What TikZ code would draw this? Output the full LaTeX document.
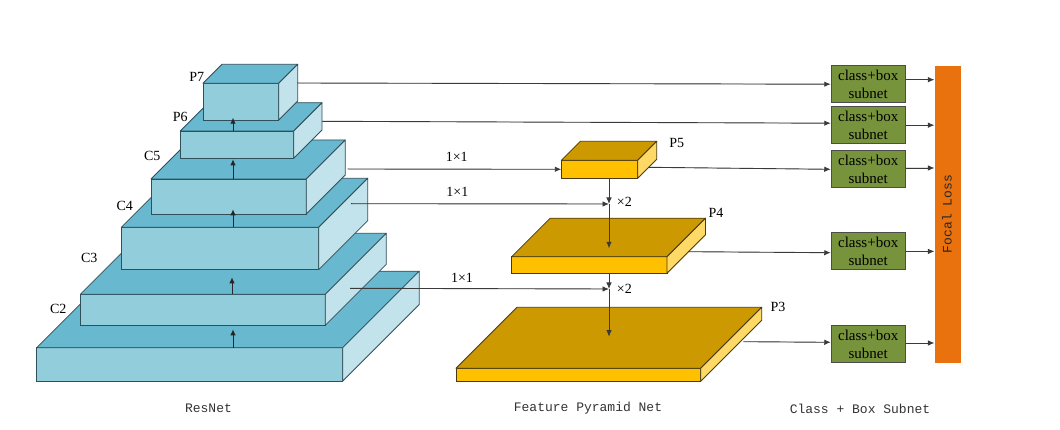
\documentclass[tikz,border=0pt]{standalone}
\usepackage{fontspec}
\setmainfont{Liberation Serif}
\setmonofont{Liberation Mono}
\definecolor{BlueFront}{HTML}{92CDDC}
\definecolor{BlueTop}{HTML}{68B9D0}
\definecolor{BlueSide}{HTML}{C3E3EC}
\definecolor{BlueEdge}{HTML}{2F4F5A}
\definecolor{GoldFront}{HTML}{FFC000}
\definecolor{GoldTop}{HTML}{CC9900}
\definecolor{GoldSide}{HTML}{FFD966}
\definecolor{GoldEdge}{HTML}{4A3A10}
\definecolor{SubnetGreen}{HTML}{77933C}
\definecolor{LossOrange}{HTML}{E9720E}
\definecolor{LineDark}{HTML}{3A3A3A}
\usetikzlibrary{arrows.meta,positioning,calc}
\tikzset{
  slabFront/.style={anchor=north west, inner sep=0pt, outer sep=0pt},
  subnetBox/.style={draw=black!70, line width=0.9pt, fill=SubnetGreen, align=center, minimum width=74pt, minimum height=37pt, inner sep=0pt, font=\fontsize{15}{18.5}\selectfont},
  lossBox/.style={fill=LossOrange, minimum width=26.5pt, minimum height=297pt, inner sep=0pt},
  lossLabel/.style={rotate=90, inner sep=0pt, text=black!85, font=\ttfamily\fontsize{13}{15}\selectfont},
  levelLabel/.style={inner sep=0pt, font=\fontsize{14}{16}\selectfont},
  captionLabel/.style={inner sep=0pt, text=black!80, font=\ttfamily\fontsize{13}{15}\selectfont},
  arrow/.style={-{Latex[length=6.5pt,width=5.5pt]}, line width=0.9pt, draw=LineDark, fill=black},
  upArrow/.style={-{Latex[length=6pt,width=5.5pt]}, line width=1pt, draw=black!85}
}
% name, left, top, width, height, depth, palette
\newcommand{\slab}[7]{%
  \node[slabFront, minimum width=#4pt, minimum height=#5pt, fill=#7Front, draw=#7Edge, line width=0.8pt] (#1) at (#2,#3) {};
  \draw[draw=#7Edge, line width=0.8pt, line join=round, fill=#7Top] (#1.north west) -- ++(#6,-#6) -- ++(#4,0) -- (#1.north east) -- cycle;
  \draw[draw=#7Edge, line width=0.8pt, line join=round, fill=#7Side] (#1.north east) -- ++(#6,-#6) -- ++(0,#5) -- (#1.south east) -- cycle;
}
\begin{document}
\begin{tikzpicture}[x=1pt,y=-1pt]
  \useasboundingbox (0,0) rectangle (1060,430);

  % ResNet levels, widest first
  \slab{C1}{36.7}{347.7}{306}{33.3}{76.5}{Blue}
  \slab{C2}{80.3}{294.3}{245}{31}{61}{Blue}
  \slab{C3}{121.3}{227.3}{197.4}{42.4}{49}{Blue}
  \slab{C4}{151}{179}{155.3}{35}{39}{Blue}
  \slab{C5}{180.3}{131}{113.4}{27.3}{28.3}{Blue}
  \slab{C6}{203}{83.3}{75.7}{36.7}{19}{Blue}

  % feature pyramid levels
  \slab{P5}{561.3}{160.3}{76.4}{18}{19}{Gold}
  \slab{P4}{511.7}{256.7}{155.3}{16.6}{38.5}{Gold}
  \slab{P3}{456}{368.3}{244.7}{13}{61}{Gold}

  \node[subnetBox] (sub1) at (868.2,84.2) {class+box\\subnet};
  \node[subnetBox] (sub2) at (868.2,125.2) {class+box\\subnet};
  \node[subnetBox] (sub3) at (868.2,169.3) {class+box\\subnet};
  \node[subnetBox] (sub4) at (868.2,251.4) {class+box\\subnet};
  \node[subnetBox] (sub5) at (868.2,344.2) {class+box\\subnet};
  \node[lossBox] (loss) at (947.9,214.2) {};
  \node[lossLabel] (lossText) at (947,214) {Focal Loss};

  \node[levelLabel] (labP7) at (196.7,76.7) {P7};
  \node[levelLabel] (labP6) at (180.3,116.7) {P6};
  \node[levelLabel] (labC5) at (152.3,156) {C5};
  \node[levelLabel] (labC4) at (124.7,205.7) {C4};
  \node[levelLabel] (labC3) at (89.3,258) {C3};
  \node[levelLabel] (labC2) at (58.3,309) {C2};
  \node[levelLabel] (labP5) at (676.7,142.7) {P5};
  \node[levelLabel] (labP4) at (716,212.7) {P4};
  \node[levelLabel] (labP3) at (778,306.7) {P3};

  \node[levelLabel] (conv5) at (456.7,156.7) {1×1};
  \node[levelLabel] (conv4) at (457.3,191.7) {1×1};
  \node[levelLabel] (conv3) at (462,277.7) {1×1};
  \node[levelLabel] (up4) at (624.3,201.7) {×2};
  \node[levelLabel] (up3) at (624.3,289) {×2};

  \node[captionLabel] (capRes) at (208.5,408.5) {ResNet};
  \node[captionLabel] (capFpn) at (588,408.5) {Feature Pyramid Net};
  \node[captionLabel] (capSub) at (860,408.5) {Class + Box Subnet};

  % free ends of the connectors
  \coordinate (tipC1) at (233,329.3);
  \coordinate (tipC2) at (232,277.3);
  \coordinate (tipC3) at (233,209.3);
  \coordinate (tipC4) at (233,159.3);
  \coordinate (tipC5) at (233,117.7);
  \coordinate (outC6) at (297.3,83);
  \coordinate (outC5) at (322,121.3);
  \coordinate (outC4) at (347.7,169);
  \coordinate (outC3) at (351,203.7);
  \coordinate (outC2) at (350,288.3);
  \coordinate (mergeP4) at (609,204);
  \coordinate (mergeP3) at (609,289);
  \coordinate (tipP4) at (609,248.3);
  \coordinate (tipP3) at (609,336.7);
  \coordinate (outP5) at (648.3,167.3);
  \coordinate (outP4) at (688.3,251.7);
  \coordinate (outP3) at (743.3,341.7);

  \draw[upArrow] (tipC1 |- C1.north) -- (tipC1);
  \draw[upArrow] (tipC2 |- C2.north) -- (tipC2);
  \draw[upArrow] (tipC3 |- C3.north) -- (tipC3);
  \draw[upArrow] (tipC4 |- C4.north) -- (tipC4);
  \draw[upArrow] (tipC5 |- C5.north) -- (tipC5);

  \draw[arrow] (outC6) -- (sub1.west);
  \draw[arrow] (outC5) -- ([yshift=2pt]sub2.west);
  \draw[arrow] (outC4) -- (P5.west);
  \draw[arrow] (outC3) -- (mergeP4);
  \draw[arrow] (outC2) -- (mergeP3);
  \draw[arrow] (mergeP4 |- P5.south) -- (mergeP4);
  \draw[arrow] (mergeP4) -- (tipP4);
  \draw[arrow] (mergeP3 |- P4.south) -- (mergeP3);
  \draw[arrow] (mergeP3) -- (tipP3);
  \draw[arrow] (outP5) -- (sub3.west);
  \draw[arrow] (outP4) -- ([yshift=-1.3pt]sub4.west);
  \draw[arrow] (outP3) -- ([yshift=1.9pt]sub5.west);

  \draw[arrow] ([yshift=4.5pt]sub1.east) -- ([yshift=4.5pt]sub1.east -| loss.west);
  \draw[arrow] (sub2.east) -- (sub2.east -| loss.west);
  \draw[arrow] ([yshift=1.3pt]sub3.east) -- ([yshift=1.3pt]sub3.east -| loss.west);
  \draw[arrow] (sub4.east) -- (sub4.east -| loss.west);
  \draw[arrow] ([yshift=1.2pt]sub5.east) -- ([yshift=1.2pt]sub5.east -| loss.west);
\end{tikzpicture}
\end{document}
